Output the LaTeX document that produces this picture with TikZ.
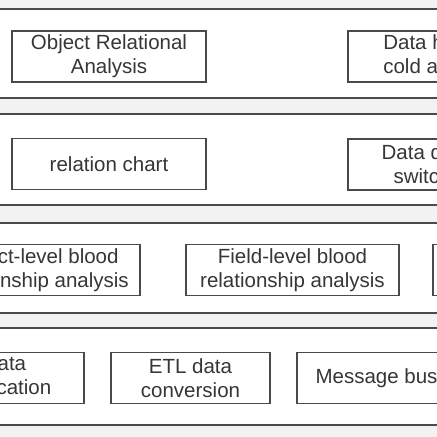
\documentclass[tikz,border=0pt]{standalone}
\usepackage{fontspec}
\setmainfont{Liberation Sans}
\definecolor{inkgray}{HTML}{363636}
\definecolor{linegray}{HTML}{4A4A4A}
\definecolor{gapgray}{HTML}{F2F2F2}
\begin{document}
\begin{tikzpicture}[
			x=1pt, y=-1pt,
			rec/.style = {draw=linegray, line width=1.3pt, rectangle, align=center, text=inkgray,
				inner sep=0pt, minimum height=51, font=\fontsize{20.5}{24}\selectfont},
			wide/.style = {rec, minimum width=194},
			mid/.style = {rec, minimum width=213},
			small/.style = {rec, minimum width=159},
			band/.style = {draw=linegray, line width=1.6pt, fill=white}]
			
			\useasboundingbox (0,0) rectangle (437,437);
			\clip (0,0) rectangle (437,437);
			\fill[gapgray] (0,0) rectangle (437,437);
			
			% layers
			\foreach \ytop/\ybot in {9/98, 114/205, 223/313, 328/425}
			\draw[band] (-20,\ytop) rectangle (457,\ybot);
			
			% layer 1
			\node[wide] (ora) at (109,56.5) {Object Relational\\Analysis};
			\node[wide, minimum width=188] (dhc) at (442,56.5) {Data hot and\\cold analysis};
			
			% layer 2
			\node[wide] (rch) at (109,164) {relation chart};
			\node[wide, minimum width=188] (dds) at (442,164.5) {Data disaster\\switchover};
			
			% layer 3
			\node[mid, minimum width=207] (olb) at (36.5,270) {Object-level blood\\relationship analysis};
			\node[mid] (flb) at (292.5,270) {Field-level blood\\relationship analysis};
			\node[mid] (tlb) at (539.5,270) {};
			
			% layer 4
			\node[small] (drep) at (4.5,378) {Data\\replication};
			\node[small] (etl) at (190.5,378) {ETL data\\conversion};
			\node[small] (mbus) at (376.5,378) {Message bus};
		\end{tikzpicture}
\end{document}
